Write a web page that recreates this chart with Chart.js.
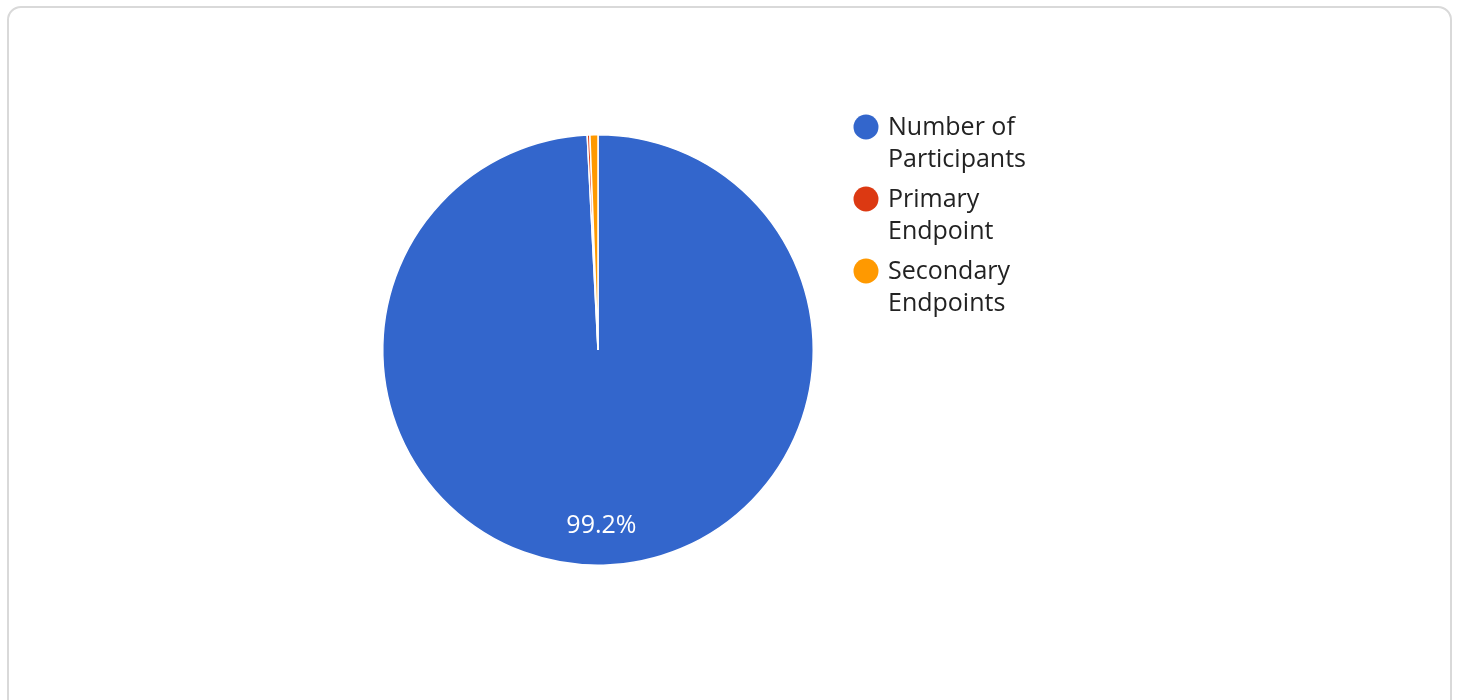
<!DOCTYPE html>
<html>
<head>
<meta charset="utf-8">
<script src="https://cdn.jsdelivr.net/npm/chart.js@4"></script>
<style>
    html, body { margin: 0; padding: 0; background: #fff; overflow: hidden; }
    .card {
        position: absolute; left: 7px; top: 6px; width: 1445px; height: 720px;
        border: 2px solid #d9d9d9; border-radius: 14px; box-sizing: border-box;
    }
    .chart-box { position: absolute; left: 0; top: 0; width: 1458px; height: 700px; }
</style>
</head>
<body>
<div class="card"></div>
<div class="chart-box"><canvas id="mainChart"></canvas></div>
<script>
// Daten
const categories = ['Number of Participants', 'Primary Endpoint', 'Secondary Endpoints'];
const seriesValues = [496, 1, 3];
const sliceColors = ['#3366cc', '#dc3912', '#ff9900'];

const FONT = '"Open Sans", "Noto Sans", sans-serif';

// Prozent-Label in der Scheibe (nur grosse Segmente)
const sliceLabels = {
    id: 'sliceLabels',
    afterDatasetsDraw(chart) {
        const ctx = chart.ctx;
        const meta = chart.getDatasetMeta(0);
        const data = chart.data.datasets[0].data;
        const total = data.reduce((a, b) => a + b, 0);
        ctx.save();
        ctx.font = '25px ' + FONT;
        ctx.fillStyle = '#ffffff';
        ctx.textAlign = 'center';
        ctx.textBaseline = 'middle';
        meta.data.forEach((arc, i) => {
            const pct = data[i] / total * 100;
            if (pct < 5) return;
            const mid = (arc.startAngle + arc.endAngle) / 2;
            const r = arc.outerRadius * 0.815;
            ctx.fillText(pct.toFixed(1) + '%', arc.x + Math.cos(mid) * r - 1, arc.y + Math.sin(mid) * r + 1);
        });
        ctx.restore();
    }
};

// Eigene Legende mit Zeilenumbruch
const wrapLegend = {
    id: 'wrapLegend',
    afterDraw(chart) {
        const ctx = chart.ctx;
        const x0 = 866, maxW = 150, lineH = 32;
        let y = 127;
        ctx.save();
        ctx.font = '25px ' + FONT;
        ctx.textBaseline = 'middle';
        chart.data.labels.forEach((label, i) => {
            // Wörter umbrechen
            const words = label.split(' ');
            const lines = [];
            let cur = '';
            words.forEach(w => {
                const test = cur ? cur + ' ' + w : w;
                if (ctx.measureText(test).width > maxW && cur) {
                    lines.push(cur);
                    cur = w;
                } else {
                    cur = test;
                }
            });
            if (cur) lines.push(cur);

            ctx.fillStyle = chart.data.datasets[0].backgroundColor[i];
            ctx.beginPath();
            ctx.arc(x0, y, 12.5, 0, Math.PI * 2);
            ctx.fill();

            ctx.fillStyle = '#222222';
            lines.forEach((ln, j) => ctx.fillText(ln, x0 + 22, y + 1 + j * lineH));
            y += lines.length * lineH + 8;
        });
        ctx.restore();
    }
};

const ctx = document.getElementById('mainChart').getContext('2d');
new Chart(ctx, {
    type: 'pie',
    data: {
        labels: categories,
        datasets: [{
            data: seriesValues,
            backgroundColor: sliceColors,
            borderColor: '#ffffff',
            borderWidth: 1.5
        }]
    },
    options: {
        responsive: true,
        maintainAspectRatio: false,
        animation: false,
        layout: { padding: { left: 382, right: 644, top: 134, bottom: 134 } },
        plugins: {
            legend: { display: false },
            tooltip: { enabled: true }
        }
    },
    plugins: [sliceLabels, wrapLegend]
});
</script>
</body>
</html>
